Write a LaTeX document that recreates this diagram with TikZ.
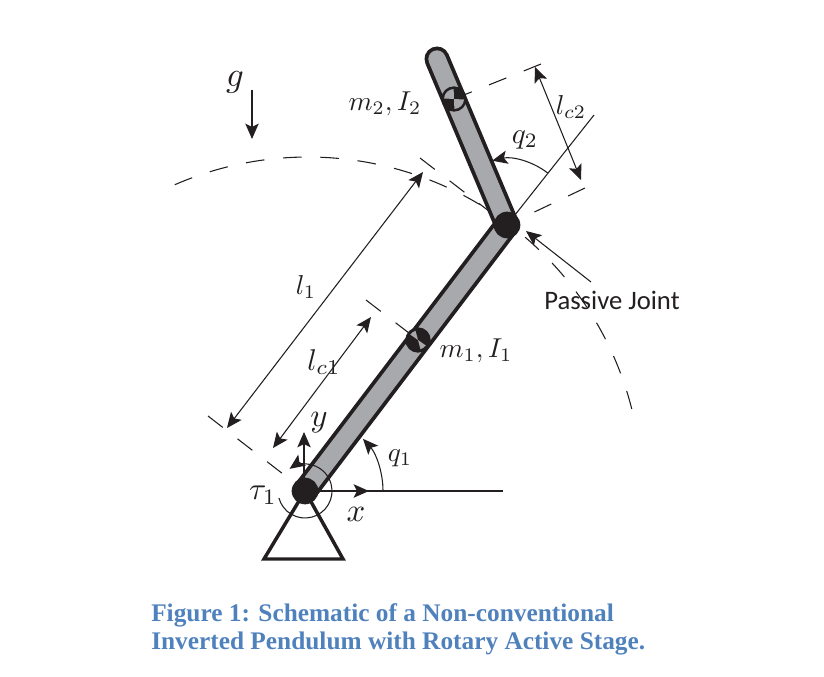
\documentclass[tikz,border=0pt]{standalone}
\usepackage{fontspec}
\setsansfont{Carlito}
\newfontfamily\capfont{Liberation Serif}
\usetikzlibrary{arrows.meta}
\definecolor{linkgrey}{HTML}{A7A9AC}
\definecolor{capblue}{HTML}{4F81BD}
\definecolor{inkblack}{HTML}{231F20}
\newcommand\pendcom[5]{
  \node[comdot] (#1) at #2 {};
  \fill[linkgrey] (#1.center) -- ++(#3:#4) arc (#3:#3+#5:#4) -- cycle;
  \fill[linkgrey] (#1.center) -- ++(#3+180:#4) arc (#3+180:#3+180+#5:#4) -- cycle;
}
\tikzset{
  >={Stealth[length=11.5pt,width=10pt,inset=2.5pt]},
  linkout/.style={line width=18.75pt,line cap=round,inkblack},
  linkin/.style={line width=13pt,line cap=round,linkgrey},
  dimline/.style={<->,line width=.8pt,inkblack},
  thinline/.style={line width=.8pt,inkblack},
  dashline/.style={line width=.8pt,inkblack,dash pattern=on 14pt off 14pt},
  joint/.style={circle,fill=inkblack,minimum size=20pt,inner sep=0pt},
  comdot/.style={circle,fill=inkblack,minimum size=19pt,inner sep=0pt},
  axis/.style={line width=1.6pt,inkblack},
  mathlabel/.style={scale=2.05,inner sep=0pt,text=inkblack},
}
\begin{document}
\begin{tikzpicture}[x=.75pt,y=.75pt]
  \useasboundingbox (0,0) rectangle (824,676);
  % pivot points
  \coordinate (base) at (305,185);
  \coordinate (elbow) at (507,451);
  \coordinate (tip) at (437,617);
  % reference arc and extension lines
  \draw[dashline] (308,185) ++(113.5:334) arc (113.5:13:334);
  \coordinate (extbase) at (208,260);
  \coordinate (extelbow) at (420,518);
  \coordinate (extcom) at (366,376);
  \coordinate (extm) at (541,612);
  \coordinate (extq) at (585,488);
  \coordinate (refq) at (594,561);
  \draw[dashline] (extbase) -- (base);
  \draw[dashline] (extelbow) -- (elbow);
  % links
  \draw[linkout] (base) -- (elbow);
  \draw[linkin] (base) -- (elbow);
  \draw[linkout] (elbow) -- (tip);
  \draw[linkin] (elbow) -- (tip);
  % centres of mass
  \draw[dashline] (extcom) -- (418,336);
  \draw[dashline] (extm) -- (454,577);
  \pendcom{comone}{(418,336)}{105}{9.5}{40}
  \pendcom{comtwo}{(454,577)}{92}{10}{85}
  % stand
  \coordinate (standl) at (264,117);
  \coordinate (standr) at (343,117);
  \draw[line width=2.6pt,inkblack,line join=miter] (base) -- (standl) -- (standr) -- cycle;
  % joints
  \node[joint] (basept) at (base) {};
  \node[joint] (elbowpt) at (elbow) {};
  % elbow lines
  \draw[dashline] (extq) -- (elbowpt);
  \draw[thinline] (elbowpt) -- (refq);
  % dimensions
  \coordinate (lonea) at (227,248);
  \coordinate (loneb) at (423,504);
  \coordinate (lcona) at (273,228);
  \coordinate (lconb) at (371,359);
  \coordinate (lcta) at (535,609);
  \coordinate (lctb) at (581,496);
  \draw[dimline] (lonea) -- (loneb);
  \draw[dimline] (lcona) -- (lconb);
  \draw[dimline] (lcta) -- (lctb);
  % axes
  \coordinate (xend) at (503,185);
  \coordinate (yend) at (304,244);
  \draw[axis] (basept) -- (xend);
  \draw[axis,->] (basept) -- (369,185);
  \draw[axis,line width=1.2pt,->] (304,185) -- (yend);
  % angles
  \draw[thinline,->] (base) ++(0:78) arc (0:42:78);
  \draw[thinline,->] (elbow) ++(52:66) arc (52:103:66);
  \draw[thinline,->] (base) ++(195:27) arc (195:485:27);
  % gravity
  \coordinate (gtop) at (252,586);
  \coordinate (gend) at (252,537);
  \draw[axis,line width=1.2pt,->] (gtop) -- (gend);
  % passive joint pointer
  \node[font=\sffamily\fontsize{20}{24}\selectfont,inner sep=0pt,text=inkblack] (passive) at (612,376) {Passive Joint};
  \coordinate (passfrom) at (591,394);
  \draw[thinline,->] (passfrom) -- (526,445);
  % labels
  \node[mathlabel,scale=1.27] (glabel) at (235,594) {$g$};
  \node[mathlabel] (mtwo) at (385,572) {$m_2,I_2$};
  \node[mathlabel] (lctwo) at (571,569) {$l_{c2}$};
  \node[mathlabel,scale=1.07] (qtwo) at (525,536) {$q_2$};
  \node[mathlabel] (lone) at (306,389) {$l_1$};
  \node[mathlabel,scale=1.1] (lcone) at (324,314) {$l_{c1}$};
  \node[mathlabel,scale=1.2] (ylabel) at (319,253) {$y$};
  \node[mathlabel,scale=1.2] (xlabel) at (356,162) {$x$};
  \node[mathlabel,scale=1.15] (tauone) at (263,181) {$\tau_1$};
  \node[mathlabel] (qone) at (400,218) {$q_1$};
  \node[mathlabel] (mone) at (476,325) {$m_1,I_1$};
  % caption
  \node[anchor=base west,inner sep=0pt,text=capblue,font=\capfont\bfseries\fontsize{19}{22}\selectfont] (capone) at (151,55) {Figure 1: Schematic of a Non-conventional};
  \node[anchor=base west,inner sep=0pt,text=capblue,font=\capfont\bfseries\fontsize{19}{22}\selectfont] (captwo) at (151,27) {Inverted Pendulum with Rotary Active Stage.};
\end{tikzpicture}
\end{document}
